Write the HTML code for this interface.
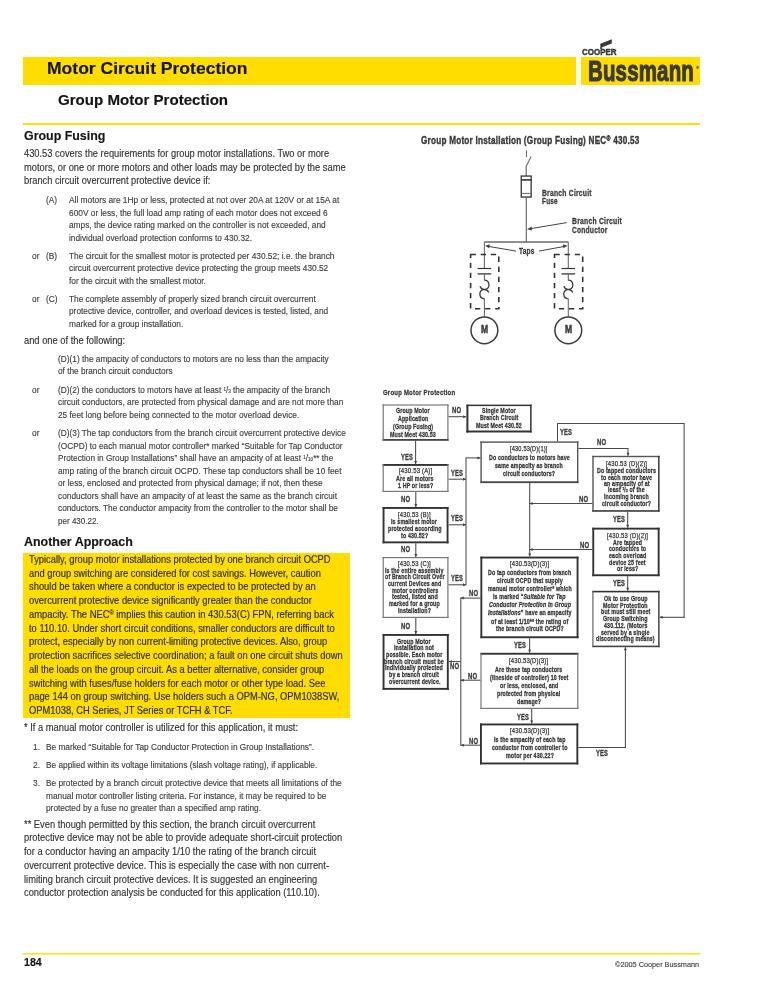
<!DOCTYPE html><html><head><meta charset="utf-8"><style>
*{margin:0;padding:0}
html,body{width:768px;height:994px;background:#fff;overflow:hidden}
body{position:relative;font-family:"Liberation Sans",sans-serif}
#pg{position:absolute;left:0;top:0;width:768px;height:994px;background:#fff;filter:blur(0.3px)}
.g{position:absolute;left:0;top:0}
.l{position:absolute;white-space:nowrap;line-height:1;transform-origin:0 0;-webkit-text-stroke:0.15px currentColor}
.fr sup,.fr sub{font-size:55%;line-height:0}
.fr sup{vertical-align:0.45em}.fr sub{vertical-align:-0.05em}
.fr2 sup,.fr2 sub{font-size:60%;line-height:0}
.fr2 sup{vertical-align:0.4em}.fr2 sub{vertical-align:0}
sup.reg{font-size:60%;vertical-align:0.5em;line-height:0}
sup.reg2{font-size:65%;vertical-align:0.45em;line-height:0}
.band{position:absolute;background:#FFDD00}
.fc{-webkit-text-stroke:0.32px currentColor;letter-spacing:0.2px}
.fb{-webkit-text-stroke:0.25px currentColor;letter-spacing:0.2px}
.dg{-webkit-text-stroke:0.3px currentColor;letter-spacing:0.3px}
.dt{-webkit-text-stroke:0.4px currentColor;letter-spacing:0.3px}
.dm{-webkit-text-stroke:0.5px currentColor}
</style></head><body style="color:#333"><div id=pg>
<div class=band style="left:23px;top:57px;width:552.5px;height:27.5px"></div>
<div class=band style="left:581px;top:57px;width:119px;height:27.5px"></div>
<div class=band style="left:22.5px;top:553.25px;width:327.5px;height:164.25px"></div>
<svg class=g width="768" height="994" viewBox="0 0 768 994"><rect x="23" y="123" width="677" height="2" fill="#FFDD00"/><rect x="22.5" y="953" width="678" height="1.6" fill="#FFE21A"/><line x1="526.5" y1="150.5" x2="526.5" y2="157" stroke="#6a6a6a" stroke-width="1.1" /><line x1="526.0" y1="166.8" x2="531.1" y2="156.5" stroke="#6a6a6a" stroke-width="1.1" /><line x1="526.2" y1="166.3" x2="526.2" y2="176" stroke="#6a6a6a" stroke-width="1.2" /><rect x="521.25" y="176.05" width="9.899999999999931" height="20.999999999999982" fill="none" stroke="#333" stroke-width="1.3"/><line x1="521" y1="179.9" x2="531.5" y2="179.9" stroke="#333" stroke-width="1.6" /><line x1="521" y1="193.4" x2="531.5" y2="193.4" stroke="#666" stroke-width="1.0" /><line x1="526.3" y1="197.4" x2="526.3" y2="242.5" stroke="#6a6a6a" stroke-width="1.2" /><line x1="484.3" y1="242" x2="568.3" y2="242" stroke="#6a6a6a" stroke-width="1.4" /><line x1="566.8" y1="222.6" x2="530.5" y2="228.7" stroke="#444" stroke-width="1.0" /><polygon points="527,229.3 531.6,226.5 531.9,230.6" fill="#444"/><line x1="516.0" y1="251.1" x2="488.5" y2="246.4" stroke="#444" stroke-width="1.0" /><polygon points="485.1,245.8 489.9,244.2 489.2,248.3" fill="#444"/><line x1="539.0" y1="251.1" x2="564.4" y2="246.4" stroke="#444" stroke-width="1.0" /><polygon points="567.6,245.8 562.8,244.2 563.5,248.3" fill="#444"/><line x1="484.4" y1="242" x2="484.4" y2="268.3" stroke="#6a6a6a" stroke-width="1.1" /><line x1="477.59999999999997" y1="268.5" x2="491.2" y2="268.5" stroke="#333" stroke-width="1.15" /><line x1="477.59999999999997" y1="273.9" x2="491.2" y2="273.9" stroke="#5c5c5c" stroke-width="1.6" /><line x1="484.4" y1="273.7" x2="484.4" y2="280.4" stroke="#6a6a6a" stroke-width="1.1" /><path d="M 484.4 280.2 A 4.6 4.6 0 1 1 480.0 286.3" fill="none" stroke="#3a3a3a" stroke-width="1.3"/><path d="M 488.79999999999995 292.6 A 4.6 4.6 0 1 0 484.4 298.8" fill="none" stroke="#3a3a3a" stroke-width="1.3"/><line x1="484.4" y1="298.6" x2="484.4" y2="316.8" stroke="#6a6a6a" stroke-width="1.1" /><circle cx="484.4" cy="330.3" r="13.4" fill="none" stroke="#3a3a3a" stroke-width="1.5"/><rect x="470.59999999999997" y="254.5" width="28.19999999999999" height="54.3" fill="none" stroke="#333" stroke-width="1.6" stroke-dasharray="5.3 4.8"/><line x1="568.3" y1="242" x2="568.3" y2="268.3" stroke="#6a6a6a" stroke-width="1.1" /><line x1="561.5" y1="268.5" x2="575.0999999999999" y2="268.5" stroke="#333" stroke-width="1.15" /><line x1="561.5" y1="273.9" x2="575.0999999999999" y2="273.9" stroke="#5c5c5c" stroke-width="1.6" /><line x1="568.3" y1="273.7" x2="568.3" y2="280.4" stroke="#6a6a6a" stroke-width="1.1" /><path d="M 568.3 280.2 A 4.6 4.6 0 1 1 563.9 286.3" fill="none" stroke="#3a3a3a" stroke-width="1.3"/><path d="M 572.6999999999999 292.6 A 4.6 4.6 0 1 0 568.3 298.8" fill="none" stroke="#3a3a3a" stroke-width="1.3"/><line x1="568.3" y1="298.6" x2="568.3" y2="316.8" stroke="#6a6a6a" stroke-width="1.1" /><circle cx="568.3" cy="330.3" r="13.4" fill="none" stroke="#3a3a3a" stroke-width="1.5"/><rect x="554.5" y="254.5" width="28.199999999999932" height="54.3" fill="none" stroke="#333" stroke-width="1.6" stroke-dasharray="5.3 4.8"/><rect x="382.6" y="404.4" width="65.89999999999998" height="1.2" fill="#777"/><rect x="447.3" y="404.4" width="1.2" height="36.400000000000034" fill="#777"/><rect x="382.6" y="439.0" width="65.89999999999998" height="1.8" fill="#444"/><rect x="382.6" y="404.4" width="1.2" height="36.400000000000034" fill="#777"/><rect x="466.4" y="404.6" width="65.20000000000005" height="1.5" fill="#333"/><rect x="530.1" y="404.6" width="1.5" height="27.899999999999977" fill="#333"/><rect x="466.4" y="430.5" width="65.20000000000005" height="2.0" fill="#333"/><rect x="466.4" y="404.6" width="2.0" height="27.899999999999977" fill="#333"/><rect x="382.6" y="464.0" width="65.89999999999998" height="1.9" fill="#333"/><rect x="447.3" y="464.0" width="1.2" height="28.0" fill="#777"/><rect x="382.6" y="490.8" width="65.89999999999998" height="1.2" fill="#777"/><rect x="382.6" y="464.0" width="1.2" height="28.0" fill="#777"/><rect x="382.6" y="507.0" width="65.89999999999998" height="1.9" fill="#333"/><rect x="446.6" y="507.0" width="1.9" height="36.299999999999955" fill="#333"/><rect x="382.6" y="541.4" width="65.89999999999998" height="1.9" fill="#333"/><rect x="382.6" y="507.0" width="1.9" height="36.299999999999955" fill="#333"/><rect x="382.6" y="557.0" width="65.89999999999998" height="1.2" fill="#777"/><rect x="447.3" y="557.0" width="1.2" height="61.0" fill="#777"/><rect x="382.6" y="616.8" width="65.89999999999998" height="1.2" fill="#777"/><rect x="382.6" y="557.0" width="1.2" height="61.0" fill="#777"/><rect x="382.6" y="634.0" width="66.14999999999998" height="1.9" fill="#333"/><rect x="446.85" y="634.0" width="1.9" height="55.799999999999955" fill="#333"/><rect x="382.6" y="687.9" width="66.14999999999998" height="1.9" fill="#333"/><rect x="382.6" y="634.0" width="1.9" height="55.799999999999955" fill="#333"/><rect x="480.4" y="441.4" width="98.0" height="1.4" fill="#555"/><rect x="577.0" y="441.4" width="1.4" height="41.700000000000045" fill="#555"/><rect x="480.4" y="481.3" width="98.0" height="1.8" fill="#444"/><rect x="480.4" y="441.4" width="1.4" height="41.700000000000045" fill="#555"/><rect x="592.3" y="455.8" width="67.30000000000007" height="1.4" fill="#555"/><rect x="658.0" y="455.8" width="1.6" height="56.0" fill="#444"/><rect x="592.3" y="510.1" width="67.30000000000007" height="1.7" fill="#444"/><rect x="592.3" y="455.8" width="1.4" height="56.0" fill="#555"/><rect x="592.3" y="527.7" width="67.30000000000007" height="1.9" fill="#333"/><rect x="657.7" y="527.7" width="1.9" height="48.5" fill="#333"/><rect x="592.3" y="574.3000000000001" width="67.30000000000007" height="1.9" fill="#333"/><rect x="592.3" y="527.7" width="1.9" height="48.5" fill="#333"/><rect x="592.3" y="590.8" width="67.30000000000007" height="1.6" fill="#333"/><rect x="658.1" y="590.8" width="1.5" height="56.40000000000009" fill="#444"/><rect x="592.3" y="645.6" width="67.30000000000007" height="1.6" fill="#444"/><rect x="592.3" y="590.8" width="1.2" height="56.40000000000009" fill="#666"/><rect x="480.4" y="556.6" width="98.10000000000002" height="1.9" fill="#333"/><rect x="576.6" y="556.6" width="1.9" height="81.60000000000002" fill="#333"/><rect x="480.4" y="636.3000000000001" width="98.10000000000002" height="1.9" fill="#333"/><rect x="480.4" y="556.6" width="1.9" height="81.60000000000002" fill="#333"/><rect x="480.4" y="652.8" width="98.0" height="1.9" fill="#333"/><rect x="577.1999999999999" y="652.8" width="1.2" height="56.200000000000045" fill="#777"/><rect x="480.4" y="707.8" width="98.0" height="1.2" fill="#777"/><rect x="480.4" y="652.8" width="1.2" height="56.200000000000045" fill="#777"/><rect x="480.0" y="723.5" width="98.29999999999995" height="1.9" fill="#333"/><rect x="576.4" y="723.5" width="1.9" height="40.89999999999998" fill="#333"/><rect x="480.0" y="762.5" width="98.29999999999995" height="1.9" fill="#333"/><rect x="480.0" y="723.5" width="1.9" height="40.89999999999998" fill="#333"/><line x1="448.5" y1="416.7" x2="466.2" y2="416.7" stroke="#4a4a4a" stroke-width="1.05" /><polygon points="466.20,416.70 463.20,415.20 463.20,418.20" fill="#444"/><line x1="415.6" y1="440.8" x2="415.6" y2="464.0" stroke="#4a4a4a" stroke-width="1.05" /><polygon points="415.60,464.00 414.10,461.00 417.10,461.00" fill="#444"/><line x1="448.5" y1="479.2" x2="466.0" y2="479.2" stroke="#4a4a4a" stroke-width="1.05" /><polygon points="466.00,479.20 463.00,477.70 463.00,480.70" fill="#444"/><line x1="415.8" y1="492.0" x2="415.8" y2="507.0" stroke="#4a4a4a" stroke-width="1.05" /><polygon points="415.80,507.00 414.30,504.00 417.30,504.00" fill="#444"/><line x1="448.5" y1="524.8" x2="466.0" y2="524.8" stroke="#4a4a4a" stroke-width="1.05" /><polygon points="466.00,524.80 463.00,523.30 463.00,526.30" fill="#444"/><line x1="415.8" y1="543.3" x2="415.8" y2="557.0" stroke="#4a4a4a" stroke-width="1.05" /><polygon points="415.80,557.00 414.30,554.00 417.30,554.00" fill="#444"/><line x1="448.5" y1="584.8" x2="466.0" y2="584.8" stroke="#4a4a4a" stroke-width="1.05" /><polygon points="466.00,584.80 463.00,583.30 463.00,586.30" fill="#444"/><line x1="415.8" y1="618.0" x2="415.8" y2="634.0" stroke="#4a4a4a" stroke-width="1.05" /><polygon points="415.80,634.00 414.30,631.00 417.30,631.00" fill="#444"/><line x1="466.0" y1="457.4" x2="466.0" y2="585.3" stroke="#4a4a4a" stroke-width="1.05" /><line x1="466.0" y1="457.9" x2="480.4" y2="457.9" stroke="#4a4a4a" stroke-width="1.05" /><polygon points="480.40,457.90 477.40,456.40 477.40,459.40" fill="#444"/><line x1="557.5" y1="441.4" x2="557.5" y2="423.0" stroke="#4a4a4a" stroke-width="1.05" /><line x1="557.0" y1="423.5" x2="684.1" y2="423.5" stroke="#4a4a4a" stroke-width="1.05" /><line x1="684.1" y1="423.0" x2="684.1" y2="617.8" stroke="#4a4a4a" stroke-width="1.05" /><line x1="684.6" y1="617.3" x2="659.6" y2="617.3" stroke="#4a4a4a" stroke-width="1.05" /><polygon points="659.60,617.30 662.60,615.80 662.60,618.80" fill="#444"/><line x1="578.4" y1="448.4" x2="628.0" y2="448.4" stroke="#4a4a4a" stroke-width="1.05" /><line x1="628.0" y1="447.9" x2="628.0" y2="455.8" stroke="#4a4a4a" stroke-width="1.05" /><polygon points="628.00,455.80 626.50,452.80 629.50,452.80" fill="#444"/><line x1="529.7" y1="482.6" x2="529.7" y2="556.6" stroke="#4a4a4a" stroke-width="1.05" /><polygon points="529.70,556.60 528.20,553.60 531.20,553.60" fill="#444"/><line x1="592.3" y1="503.5" x2="529.7" y2="503.5" stroke="#4a4a4a" stroke-width="1.05" /><polygon points="529.70,503.50 532.70,502.00 532.70,505.00" fill="#444"/><line x1="627.7" y1="511.8" x2="627.7" y2="527.7" stroke="#4a4a4a" stroke-width="1.05" /><polygon points="627.70,527.70 626.20,524.70 629.20,524.70" fill="#444"/><line x1="592.3" y1="549.5" x2="529.7" y2="549.5" stroke="#4a4a4a" stroke-width="1.05" /><polygon points="529.70,549.50 532.70,548.00 532.70,551.00" fill="#444"/><line x1="627.7" y1="576.2" x2="627.7" y2="590.8" stroke="#4a4a4a" stroke-width="1.05" /><polygon points="627.70,590.80 626.20,587.80 629.20,587.80" fill="#444"/><line x1="480.4" y1="598.1" x2="460.8" y2="598.1" stroke="#4a4a4a" stroke-width="1.05" /><polygon points="460.80,598.10 463.80,596.60 463.80,599.60" fill="#444"/><line x1="460.8" y1="597.6" x2="460.8" y2="745.7" stroke="#4a4a4a" stroke-width="1.05" /><line x1="460.8" y1="661.6" x2="448.75" y2="661.6" stroke="#4a4a4a" stroke-width="1.05" /><polygon points="448.75,661.60 451.75,660.10 451.75,663.10" fill="#444"/><line x1="529.6" y1="638.2" x2="529.6" y2="652.8" stroke="#4a4a4a" stroke-width="1.05" /><polygon points="529.60,652.80 528.10,649.80 531.10,649.80" fill="#444"/><line x1="480.4" y1="680.2" x2="460.8" y2="680.2" stroke="#4a4a4a" stroke-width="1.05" /><polygon points="460.80,680.20 463.80,678.70 463.80,681.70" fill="#444"/><line x1="531.7" y1="709.0" x2="531.7" y2="723.5" stroke="#4a4a4a" stroke-width="1.05" /><polygon points="531.70,723.50 530.20,720.50 533.20,720.50" fill="#444"/><line x1="480.0" y1="745.2" x2="460.8" y2="745.2" stroke="#4a4a4a" stroke-width="1.05" /><polygon points="460.80,745.20 463.80,743.70 463.80,746.70" fill="#444"/><line x1="578.3" y1="747.4" x2="625.9" y2="747.4" stroke="#4a4a4a" stroke-width="1.05" /><line x1="625.4" y1="747.9" x2="625.4" y2="647.2" stroke="#4a4a4a" stroke-width="1.05" /><polygon points="625.40,647.20 623.90,650.20 626.90,650.20" fill="#444"/></svg>
<svg class=g width="768" height="994" viewBox="0 0 768 994">
<polygon points="600.3,43.8 611.8,39.2 611.8,43.5 602.1,47.3 602.1,49 600.3,49" fill="#3a3a3a"/>
</svg>
<div class=l style="left:582.2px;top:48.29px;font-size:8.6px;font-weight:bold;color:#3a3a3a;-webkit-text-stroke:0.45px #3a3a3a;transform:scaleX(0.9283)">COOPER</div>
<div class=l style="left:588.3px;top:57.19px;font-size:28.6px;font-weight:bold;color:#3a3a3a;-webkit-text-stroke:1.1px #3a3a3a;letter-spacing:0.2px;transform:scaleX(0.7171)">Bussmann</div>
<div class=l style="left:696.2px;top:67.2px;font-size:3.5px;color:#3a3a3a">®</div>
<div class="l" id=l0 style="left:47.20px;top:61.41px;font-size:16.7px;font-weight:bold;color:#151515;transform:scaleX(1.0498);">Motor Circuit Protection</div><div class="l" id=l1 style="left:57.60px;top:93.12px;font-size:14.8px;font-weight:bold;color:#151515;transform:scaleX(1.0193);">Group Motor Protection</div><div class="l" id=l2 style="left:24.20px;top:129.97px;font-size:12.5px;font-weight:bold;color:#151515;transform:scaleX(0.9922);">Group Fusing</div><div class="l" id=l3 style="left:24.10px;top:148.42px;font-size:10.5px;transform:scaleX(0.8867);">430.53 covers the requirements for group motor installations. Two or more</div><div class="l" id=l4 style="left:24.10px;top:161.97px;font-size:10.5px;transform:scaleX(0.8903);">motors, or one or more motors and other loads may be protected by the same</div><div class="l" id=l5 style="left:24.10px;top:175.47px;font-size:10.5px;transform:scaleX(0.8823);">branch circuit overcurrent protective device if:</div><div class="l" id=l6 style="left:46.20px;top:195.21px;font-size:9.4px;color:#404040;transform:scaleX(0.8900);">(A)</div><div class="l" id=l7 style="left:68.80px;top:195.21px;font-size:9.4px;color:#404040;transform:scaleX(0.8909);">All motors are 1Hp or less, protected at not over 20A at 120V or at 15A at</div><div class="l" id=l8 style="left:68.80px;top:207.61px;font-size:9.4px;color:#404040;transform:scaleX(0.8880);">600V or less, the full load amp rating of each motor does not exceed 6</div><div class="l" id=l9 style="left:68.80px;top:220.11px;font-size:9.4px;color:#404040;transform:scaleX(0.8859);">amps, the device rating marked on the controller is not exceeded, and</div><div class="l" id=l10 style="left:68.80px;top:232.61px;font-size:9.4px;color:#404040;transform:scaleX(0.8842);">individual overload protection conforms to 430.32.</div><div class="l" id=l11 style="left:32.40px;top:250.81px;font-size:9.4px;color:#404040;transform:scaleX(0.8900);">or</div><div class="l" id=l12 style="left:46.20px;top:250.81px;font-size:9.4px;color:#404040;transform:scaleX(0.8900);">(B)</div><div class="l" id=l13 style="left:68.80px;top:250.81px;font-size:9.4px;color:#404040;transform:scaleX(0.8875);">The circuit for the smallest motor is protected per 430.52; i.e. the branch</div><div class="l" id=l14 style="left:68.80px;top:263.21px;font-size:9.4px;color:#404040;transform:scaleX(0.8850);">circuit overcurrent protective device protecting the group meets 430.52</div><div class="l" id=l15 style="left:68.80px;top:275.71px;font-size:9.4px;color:#404040;transform:scaleX(0.8879);">for the circuit with the smallest motor.</div><div class="l" id=l16 style="left:32.40px;top:293.81px;font-size:9.4px;color:#404040;transform:scaleX(0.8900);">or</div><div class="l" id=l17 style="left:46.20px;top:293.81px;font-size:9.4px;color:#404040;transform:scaleX(0.8900);">(C)</div><div class="l" id=l18 style="left:68.80px;top:293.81px;font-size:9.4px;color:#404040;transform:scaleX(0.8850);">The complete assembly of properly sized branch circuit overcurrent</div><div class="l" id=l19 style="left:68.80px;top:306.31px;font-size:9.4px;color:#404040;transform:scaleX(0.8850);">protective device, controller, and overload devices is tested, listed, and</div><div class="l" id=l20 style="left:68.80px;top:318.71px;font-size:9.4px;color:#404040;transform:scaleX(0.8872);">marked for a group installation.</div><div class="l" id=l21 style="left:23.90px;top:334.68px;font-size:10.5px;transform:scaleX(0.8881);">and one of the following:</div><div class="l" id=l22 style="left:58.00px;top:353.86px;font-size:9.4px;color:#404040;transform:scaleX(0.8852);">(D)(1) the ampacity of conductors to motors are no less than the ampacity</div><div class="l" id=l23 style="left:58.00px;top:366.36px;font-size:9.4px;color:#404040;transform:scaleX(0.8789);">of the branch circuit conductors</div><div class="l" id=l24 style="left:32.40px;top:385.11px;font-size:9.4px;color:#404040;transform:scaleX(0.8900);">or</div><div class="l" id=l25 style="left:58.00px;top:385.11px;font-size:9.4px;color:#404040;transform:scaleX(0.8772);">(D)(2) the conductors to motors have at least <span class=fr><sup>1</sup>/<sub>3</sub></span> the ampacity of the branch</div><div class="l" id=l26 style="left:58.00px;top:397.21px;font-size:9.4px;color:#404040;transform:scaleX(0.8843);">circuit conductors, are protected from physical damage and are not more than</div><div class="l" id=l27 style="left:58.00px;top:409.61px;font-size:9.4px;color:#404040;transform:scaleX(0.8833);">25 feet long before being connected to the motor overload device.</div><div class="l" id=l28 style="left:32.40px;top:428.11px;font-size:9.4px;color:#404040;transform:scaleX(0.8900);">or</div><div class="l" id=l29 style="left:58.00px;top:428.11px;font-size:9.4px;color:#404040;transform:scaleX(0.8841);">(D)(3) The tap conductors from the branch circuit overcurrent protective device</div><div class="l" id=l30 style="left:58.00px;top:440.61px;font-size:9.4px;color:#404040;transform:scaleX(0.8840);">(OCPD) to each manual motor controller* marked “Suitable for Tap Conductor</div><div class="l" id=l31 style="left:58.00px;top:453.11px;font-size:9.4px;color:#404040;transform:scaleX(0.8765);">Protection in Group Installations” shall have an ampacity of at least <span class=fr><sup>1</sup>/<sub>10</sub></span>** the</div><div class="l" id=l32 style="left:58.00px;top:465.61px;font-size:9.4px;color:#404040;transform:scaleX(0.8865);">amp rating of the branch circuit OCPD. These tap conductors shall be 10 feet</div><div class="l" id=l33 style="left:58.00px;top:478.11px;font-size:9.4px;color:#404040;transform:scaleX(0.8842);">or less, enclosed and protected from physical damage; if not, then these</div><div class="l" id=l34 style="left:58.00px;top:490.61px;font-size:9.4px;color:#404040;transform:scaleX(0.8864);">conductors shall have an ampacity of at least the same as the branch circuit</div><div class="l" id=l35 style="left:58.00px;top:503.11px;font-size:9.4px;color:#404040;transform:scaleX(0.8842);">conductors. The conductor ampacity from the controller to the motor shall be</div><div class="l" id=l36 style="left:58.00px;top:515.61px;font-size:9.4px;color:#404040;transform:scaleX(0.8590);">per 430.22.</div><div class="l" id=l37 style="left:24.25px;top:536.38px;font-size:12.5px;font-weight:bold;color:#151515;transform:scaleX(0.9953);">Another Approach</div><div class="l" id=l38 style="left:28.90px;top:553.78px;font-size:10.5px;color:#2a2a2a;transform:scaleX(0.8884);">Typically, group motor installations protected by one branch circuit OCPD</div><div class="l" id=l39 style="left:28.90px;top:567.53px;font-size:10.5px;color:#2a2a2a;transform:scaleX(0.8897);">and group switching are considered for cost savings. However, caution</div><div class="l" id=l40 style="left:28.90px;top:581.28px;font-size:10.5px;color:#2a2a2a;transform:scaleX(0.8927);">should be taken where a conductor is expected to be protected by an</div><div class="l" id=l41 style="left:28.90px;top:595.03px;font-size:10.5px;color:#2a2a2a;transform:scaleX(0.8892);">overcurrent protective device significantly greater than the conductor</div><div class="l" id=l42 style="left:28.90px;top:608.78px;font-size:10.5px;color:#2a2a2a;transform:scaleX(0.8940);">ampacity. The NEC<sup class=reg>®</sup> implies this caution in 430.53(C) FPN, referring back</div><div class="l" id=l43 style="left:28.90px;top:622.53px;font-size:10.5px;color:#2a2a2a;transform:scaleX(0.8900);">to 110.10. Under short circuit conditions, smaller conductors are difficult to</div><div class="l" id=l44 style="left:28.90px;top:636.28px;font-size:10.5px;color:#2a2a2a;transform:scaleX(0.8883);">protect, especially by non current-limiting protective devices. Also, group</div><div class="l" id=l45 style="left:28.90px;top:650.03px;font-size:10.5px;color:#2a2a2a;transform:scaleX(0.8896);">protection sacrifices selective coordination; a fault on one circuit shuts down</div><div class="l" id=l46 style="left:28.90px;top:663.78px;font-size:10.5px;color:#2a2a2a;transform:scaleX(0.8924);">all the loads on the group circuit. As a better alternative, consider group</div><div class="l" id=l47 style="left:28.90px;top:677.53px;font-size:10.5px;color:#2a2a2a;transform:scaleX(0.8908);">switching with fuses/fuse holders for each motor or other type load. See</div><div class="l" id=l48 style="left:28.90px;top:691.28px;font-size:10.5px;color:#2a2a2a;transform:scaleX(0.8907);">page 144 on group switching. Use holders such a OPM-NG, OPM1038SW,</div><div class="l" id=l49 style="left:28.90px;top:705.03px;font-size:10.5px;color:#2a2a2a;transform:scaleX(0.8901);">OPM1038, CH Series, JT Series or TCFH &amp; TCF.</div><div class="l" id=l50 style="left:24.25px;top:722.43px;font-size:10.5px;transform:scaleX(0.8892);">* If a manual motor controller is utilized for this application, it must:</div><div class="l" id=l51 style="left:33.00px;top:741.61px;font-size:9.4px;color:#404040;transform:scaleX(0.8900);">1.</div><div class="l" id=l52 style="left:46.25px;top:741.61px;font-size:9.4px;color:#404040;transform:scaleX(0.8842);">Be marked “Suitable for Tap Conductor Protection in Group Installations”.</div><div class="l" id=l53 style="left:33.00px;top:759.91px;font-size:9.4px;color:#404040;transform:scaleX(0.8900);">2.</div><div class="l" id=l54 style="left:46.25px;top:759.91px;font-size:9.4px;color:#404040;transform:scaleX(0.8837);">Be applied within its voltage limitations (slash voltage rating), if applicable.</div><div class="l" id=l55 style="left:33.00px;top:778.21px;font-size:9.4px;color:#404040;transform:scaleX(0.8900);">3.</div><div class="l" id=l56 style="left:46.25px;top:778.21px;font-size:9.4px;color:#404040;transform:scaleX(0.8868);">Be protected by a branch circuit protective device that meets all limitations of the</div><div class="l" id=l57 style="left:46.25px;top:790.51px;font-size:9.4px;color:#404040;transform:scaleX(0.8868);">manual motor controller listing criteria. For instance, it may be required to be</div><div class="l" id=l58 style="left:46.25px;top:802.91px;font-size:9.4px;color:#404040;transform:scaleX(0.8853);">protected by a fuse no greater than a specified amp rating.</div><div class="l" id=l59 style="left:24.25px;top:818.68px;font-size:10.5px;transform:scaleX(0.8879);">** Even though permitted by this section, the branch circuit overcurrent</div><div class="l" id=l60 style="left:24.25px;top:832.43px;font-size:10.5px;transform:scaleX(0.8880);">protective device may not be able to provide adequate short-circuit protection</div><div class="l" id=l61 style="left:24.25px;top:846.18px;font-size:10.5px;transform:scaleX(0.8902);">for a conductor having an ampacity 1/10 the rating of the branch circuit</div><div class="l" id=l62 style="left:24.25px;top:859.93px;font-size:10.5px;transform:scaleX(0.8878);">overcurrent protective device. This is especially the case with non current-</div><div class="l" id=l63 style="left:24.25px;top:873.68px;font-size:10.5px;transform:scaleX(0.8861);">limiting branch circuit protective devices. It is suggested an engineering</div><div class="l" id=l64 style="left:24.25px;top:887.43px;font-size:10.5px;transform:scaleX(0.8863);">conductor protection analysis be conducted for this application (110.10).</div><div class="l" id=l65 style="left:24.25px;top:957.34px;font-size:10.6px;font-weight:bold;color:#151515;transform:scaleX(1.0035);">184</div><div class="l" id=l66 style="left:614.90px;top:961.02px;font-size:7.5px;color:#444;transform:scaleX(0.9731);">©2005 Cooper Bussmann</div><div class="l dt" id=l67 style="left:421.40px;top:135.34px;font-size:10.9px;font-weight:bold;color:#3a3a3a;transform:scaleX(0.7509);">Group Motor Installation (Group Fusing) NEC<sup class=reg2>®</sup> 430.53</div><div class="l dg" id=l68 style="left:541.80px;top:188.50px;font-size:8.7px;font-weight:bold;color:#3a3a3a;transform:scaleX(0.7774);">Branch Circuit</div><div class="l dg" id=l69 style="left:541.80px;top:196.80px;font-size:8.7px;font-weight:bold;color:#3a3a3a;transform:scaleX(0.7401);">Fuse</div><div class="l dg" id=l70 style="left:571.70px;top:217.40px;font-size:8.7px;font-weight:bold;color:#3a3a3a;transform:scaleX(0.7805);">Branch Circuit</div><div class="l dg" id=l71 style="left:571.70px;top:226.00px;font-size:8.7px;font-weight:bold;color:#3a3a3a;transform:scaleX(0.7635);">Conductor</div><div class="l dg" id=l72 style="left:518.80px;top:247.20px;font-size:8.7px;font-weight:bold;color:#3a3a3a;transform:scaleX(0.7484);">Taps</div><div class="l dm" id=l73 style="left:480.85px;top:325.40px;font-size:10px;font-weight:bold;color:#3a3a3a;transform:scaleX(0.8500);">M</div><div class="l dm" id=l74 style="left:564.75px;top:325.40px;font-size:10px;font-weight:bold;color:#3a3a3a;transform:scaleX(0.8500);">M</div><div class="l dg" id=l75 style="left:383.00px;top:388.69px;font-size:7.9px;font-weight:bold;color:#3a3a3a;transform:scaleX(0.7563);">Group Motor Protection</div><div class="l fc" id=l76 style="left:395.98px;top:407.81px;font-size:7.1px;font-weight:bold;color:#3a3a3a;transform:scaleX(0.7450);">Group Motor</div><div class="l fc" id=l77 style="left:397.59px;top:415.77px;font-size:7.1px;font-weight:bold;color:#3a3a3a;transform:scaleX(0.7450);">Application</div><div class="l fc" id=l78 style="left:392.67px;top:424.17px;font-size:7.1px;font-weight:bold;color:#3a3a3a;transform:scaleX(0.7450);">(Group Fusing)</div><div class="l fc" id=l79 style="left:389.87px;top:432.06px;font-size:7.1px;font-weight:bold;color:#3a3a3a;transform:scaleX(0.7450);">Must Meet 430.53</div><div class="l fc" id=l80 style="left:481.90px;top:407.67px;font-size:7.1px;font-weight:bold;color:#3a3a3a;transform:scaleX(0.7450);">Single Motor</div><div class="l fc" id=l81 style="left:479.55px;top:415.17px;font-size:7.1px;font-weight:bold;color:#3a3a3a;transform:scaleX(0.7450);">Branch Circuit</div><div class="l fc" id=l82 style="left:475.87px;top:423.47px;font-size:7.1px;font-weight:bold;color:#3a3a3a;transform:scaleX(0.7450);">Must Meet 430.52</div><div class="l fb" id=l83 style="left:398.55px;top:468.37px;font-size:7.1px;transform:scaleX(0.8437);">[430.53 (A)]</div><div class="l fc" id=l84 style="left:396.39px;top:476.42px;font-size:7.1px;font-weight:bold;color:#3a3a3a;transform:scaleX(0.7450);">Are all motors</div><div class="l fc" id=l85 style="left:397.54px;top:483.27px;font-size:7.1px;font-weight:bold;color:#3a3a3a;transform:scaleX(0.7450);">1 HP or less?</div><div class="l fb" id=l86 style="left:398.05px;top:511.97px;font-size:7.1px;transform:scaleX(0.8285);">[430.53 (B)]</div><div class="l fc" id=l87 style="left:391.40px;top:519.37px;font-size:7.1px;font-weight:bold;color:#3a3a3a;transform:scaleX(0.7450);">Is smallest motor</div><div class="l fc" id=l88 style="left:387.58px;top:526.17px;font-size:7.1px;font-weight:bold;color:#3a3a3a;transform:scaleX(0.7450);">protected according</div><div class="l fc" id=l89 style="left:400.73px;top:532.87px;font-size:7.1px;font-weight:bold;color:#3a3a3a;transform:scaleX(0.7450);">to 430.52?</div><div class="l fb" id=l90 style="left:398.30px;top:560.66px;font-size:7.1px;transform:scaleX(0.8229);">[430.53 (C)]</div><div class="l fc" id=l91 style="left:385.45px;top:567.87px;font-size:7.1px;font-weight:bold;color:#3a3a3a;transform:scaleX(0.7450);">Is the entire assembly</div><div class="l fc" id=l92 style="left:384.87px;top:574.17px;font-size:7.1px;font-weight:bold;color:#3a3a3a;transform:scaleX(0.7450);">of Branch Circuit Over</div><div class="l fc" id=l93 style="left:388.02px;top:580.97px;font-size:7.1px;font-weight:bold;color:#3a3a3a;transform:scaleX(0.7450);">current Devices and</div><div class="l fc" id=l94 style="left:391.55px;top:587.67px;font-size:7.1px;font-weight:bold;color:#3a3a3a;transform:scaleX(0.7450);">motor controllers</div><div class="l fc" id=l95 style="left:391.77px;top:594.37px;font-size:7.1px;font-weight:bold;color:#3a3a3a;transform:scaleX(0.7450);">tested, listed and</div><div class="l fc" id=l96 style="left:389.28px;top:601.17px;font-size:7.1px;font-weight:bold;color:#3a3a3a;transform:scaleX(0.7450);">marked for a group</div><div class="l fc" id=l97 style="left:398.16px;top:607.87px;font-size:7.1px;font-weight:bold;color:#3a3a3a;transform:scaleX(0.7450);">installation?</div><div class="l fc" id=l98 style="left:397.48px;top:638.67px;font-size:7.1px;font-weight:bold;color:#3a3a3a;transform:scaleX(0.7450);">Group Motor</div><div class="l fc" id=l99 style="left:394.31px;top:645.47px;font-size:7.1px;font-weight:bold;color:#3a3a3a;transform:scaleX(0.7450);">installation not</div><div class="l fc" id=l100 style="left:386.08px;top:652.17px;font-size:7.1px;font-weight:bold;color:#3a3a3a;transform:scaleX(0.7450);">possible. Each motor</div><div class="l fc" id=l101 style="left:384.32px;top:658.67px;font-size:7.1px;font-weight:bold;color:#3a3a3a;transform:scaleX(0.7450);">branch circuit must be</div><div class="l fc" id=l102 style="left:385.35px;top:665.37px;font-size:7.1px;font-weight:bold;color:#3a3a3a;transform:scaleX(0.7450);">individually protected</div><div class="l fc" id=l103 style="left:389.39px;top:672.47px;font-size:7.1px;font-weight:bold;color:#3a3a3a;transform:scaleX(0.7450);">by a branch circuit</div><div class="l fc" id=l104 style="left:388.50px;top:679.37px;font-size:7.1px;font-weight:bold;color:#3a3a3a;transform:scaleX(0.7450);">overcurrent device.</div><div class="l fb" id=l105 style="left:510.45px;top:446.12px;font-size:7.1px;transform:scaleX(0.7984);">[430.53(D)(1)]</div><div class="l fc" id=l106 style="left:488.79px;top:455.17px;font-size:7.1px;font-weight:bold;color:#3a3a3a;transform:scaleX(0.7450);">Do conductors to motors have</div><div class="l fc" id=l107 style="left:495.32px;top:462.67px;font-size:7.1px;font-weight:bold;color:#3a3a3a;transform:scaleX(0.7450);">same ampacity as branch</div><div class="l fc" id=l108 style="left:503.11px;top:470.97px;font-size:7.1px;font-weight:bold;color:#3a3a3a;transform:scaleX(0.7450);">circuit conductors?</div><div class="l fb" id=l109 style="left:605.85px;top:461.12px;font-size:7.1px;transform:scaleX(0.8364);">[430.53 (D)(2)]</div><div class="l fc" id=l110 style="left:596.87px;top:468.06px;font-size:7.1px;font-weight:bold;color:#3a3a3a;transform:scaleX(0.7450);">Do tapped conductors</div><div class="l fc" id=l111 style="left:600.83px;top:474.56px;font-size:7.1px;font-weight:bold;color:#3a3a3a;transform:scaleX(0.7450);">to each motor have</div><div class="l fc" id=l112 style="left:603.54px;top:481.17px;font-size:7.1px;font-weight:bold;color:#3a3a3a;transform:scaleX(0.7450);">an ampacity of at</div><div class="l fc" id=l113 style="left:608.01px;top:487.47px;font-size:7.1px;font-weight:bold;color:#3a3a3a;transform:scaleX(0.7450);">least <span class=fr2><sup>1</sup>/<sub>3</sub></span> of the</div><div class="l fc" id=l114 style="left:603.99px;top:494.17px;font-size:7.1px;font-weight:bold;color:#3a3a3a;transform:scaleX(0.7450);">incoming branch</div><div class="l fc" id=l115 style="left:601.86px;top:500.97px;font-size:7.1px;font-weight:bold;color:#3a3a3a;transform:scaleX(0.7450);">circuit conductor?</div><div class="l fb" id=l116 style="left:607.25px;top:532.97px;font-size:7.1px;transform:scaleX(0.8364);">[430.53 (D)(2)]</div><div class="l fc" id=l117 style="left:613.25px;top:539.57px;font-size:7.1px;font-weight:bold;color:#3a3a3a;transform:scaleX(0.7450);">Are tapped</div><div class="l fc" id=l118 style="left:609.22px;top:546.17px;font-size:7.1px;font-weight:bold;color:#3a3a3a;transform:scaleX(0.7450);">conductors to</div><div class="l fc" id=l119 style="left:609.06px;top:552.67px;font-size:7.1px;font-weight:bold;color:#3a3a3a;transform:scaleX(0.7450);">each overload</div><div class="l fc" id=l120 style="left:609.42px;top:559.57px;font-size:7.1px;font-weight:bold;color:#3a3a3a;transform:scaleX(0.7450);">device 25 feet</div><div class="l fc" id=l121 style="left:617.07px;top:565.97px;font-size:7.1px;font-weight:bold;color:#3a3a3a;transform:scaleX(0.7450);">or less?</div><div class="l fc" id=l122 style="left:603.88px;top:596.17px;font-size:7.1px;font-weight:bold;color:#3a3a3a;transform:scaleX(0.7450);">Ok to use Group</div><div class="l fc" id=l123 style="left:603.37px;top:602.67px;font-size:7.1px;font-weight:bold;color:#3a3a3a;transform:scaleX(0.7450);">Motor Protection</div><div class="l fc" id=l124 style="left:600.93px;top:609.37px;font-size:7.1px;font-weight:bold;color:#3a3a3a;transform:scaleX(0.7450);">but must still meet</div><div class="l fc" id=l125 style="left:603.44px;top:615.57px;font-size:7.1px;font-weight:bold;color:#3a3a3a;transform:scaleX(0.7450);">Group Switching</div><div class="l fc" id=l126 style="left:603.94px;top:622.87px;font-size:7.1px;font-weight:bold;color:#3a3a3a;transform:scaleX(0.7450);">430.112. (Motors</div><div class="l fc" id=l127 style="left:601.45px;top:629.57px;font-size:7.1px;font-weight:bold;color:#3a3a3a;transform:scaleX(0.7450);">served by a single</div><div class="l fc" id=l128 style="left:596.31px;top:635.97px;font-size:7.1px;font-weight:bold;color:#3a3a3a;transform:scaleX(0.7450);">disconnecting means)</div><div class="l fb" id=l129 style="left:509.95px;top:561.12px;font-size:7.1px;transform:scaleX(0.8367);">[430.53(D)(3)]</div><div class="l fc" id=l130 style="left:487.94px;top:569.97px;font-size:7.1px;font-weight:bold;color:#3a3a3a;transform:scaleX(0.7450);">Do tap conductors from branch</div><div class="l fc" id=l131 style="left:496.69px;top:578.07px;font-size:7.1px;font-weight:bold;color:#3a3a3a;transform:scaleX(0.7450);">circuit OCPD that supply</div><div class="l fc" id=l132 style="left:487.72px;top:586.07px;font-size:7.1px;font-weight:bold;color:#3a3a3a;transform:scaleX(0.7450);">manual motor controller* which</div><div class="l fc" id=l133 style="left:493.32px;top:594.17px;font-size:7.1px;font-weight:bold;color:#3a3a3a;transform:scaleX(0.7450);">is marked “<i>Suitable for Tap</i></div><div class="l fc" id=l134 style="left:488.54px;top:602.47px;font-size:7.1px;font-weight:bold;color:#3a3a3a;transform:scaleX(0.7450);"><i>Conductor Protection in Group</i></div><div class="l fc" id=l135 style="left:487.78px;top:610.47px;font-size:7.1px;font-weight:bold;color:#3a3a3a;transform:scaleX(0.7450);"><i>Installations</i>” have an ampacity</div><div class="l fc" id=l136 style="left:490.94px;top:618.67px;font-size:7.1px;font-weight:bold;color:#3a3a3a;transform:scaleX(0.7450);">of at least 1/10** the rating of</div><div class="l fc" id=l137 style="left:495.66px;top:626.37px;font-size:7.1px;font-weight:bold;color:#3a3a3a;transform:scaleX(0.7450);">the branch circuit OCPD?</div><div class="l fb" id=l138 style="left:509.35px;top:658.07px;font-size:7.1px;transform:scaleX(0.8367);">[430.53(D)(3)]</div><div class="l fc" id=l139 style="left:495.35px;top:666.87px;font-size:7.1px;font-weight:bold;color:#3a3a3a;transform:scaleX(0.7450);">Are these tap conductors</div><div class="l fc" id=l140 style="left:489.76px;top:674.87px;font-size:7.1px;font-weight:bold;color:#3a3a3a;transform:scaleX(0.7450);">(lineside of controller) 10 feet</div><div class="l fc" id=l141 style="left:499.75px;top:682.92px;font-size:7.1px;font-weight:bold;color:#3a3a3a;transform:scaleX(0.7450);">or less, enclosed, and</div><div class="l fc" id=l142 style="left:497.33px;top:690.77px;font-size:7.1px;font-weight:bold;color:#3a3a3a;transform:scaleX(0.7450);">protected from physical</div><div class="l fc" id=l143 style="left:516.88px;top:699.07px;font-size:7.1px;font-weight:bold;color:#3a3a3a;transform:scaleX(0.7450);">damage?</div><div class="l fb" id=l144 style="left:510.35px;top:728.16px;font-size:7.1px;transform:scaleX(0.8367);">[430.53(D)(3)]</div><div class="l fc" id=l145 style="left:494.21px;top:736.77px;font-size:7.1px;font-weight:bold;color:#3a3a3a;transform:scaleX(0.7450);">Is the ampacity of each tap</div><div class="l fc" id=l146 style="left:492.24px;top:744.87px;font-size:7.1px;font-weight:bold;color:#3a3a3a;transform:scaleX(0.7450);">conductor from controller to</div><div class="l fc" id=l147 style="left:505.97px;top:752.87px;font-size:7.1px;font-weight:bold;color:#3a3a3a;transform:scaleX(0.7450);">motor per 430.22?</div><div class="l fc fl" id=l148 style="left:451.80px;top:406.16px;font-size:8.4px;font-weight:bold;color:#3a3a3a;transform:scaleX(0.7094);">NO</div><div class="l fc fl" id=l149 style="left:401.20px;top:453.46px;font-size:8.4px;font-weight:bold;color:#3a3a3a;transform:scaleX(0.6913);">YES</div><div class="l fc fl" id=l150 style="left:450.75px;top:469.06px;font-size:8.4px;font-weight:bold;color:#3a3a3a;transform:scaleX(0.6913);">YES</div><div class="l fc fl" id=l151 style="left:400.80px;top:495.26px;font-size:8.4px;font-weight:bold;color:#3a3a3a;transform:scaleX(0.7094);">NO</div><div class="l fc fl" id=l152 style="left:450.80px;top:514.46px;font-size:8.4px;font-weight:bold;color:#3a3a3a;transform:scaleX(0.6913);">YES</div><div class="l fc fl" id=l153 style="left:400.80px;top:545.36px;font-size:8.4px;font-weight:bold;color:#3a3a3a;transform:scaleX(0.7094);">NO</div><div class="l fc fl" id=l154 style="left:450.80px;top:573.86px;font-size:8.4px;font-weight:bold;color:#3a3a3a;transform:scaleX(0.6913);">YES</div><div class="l fc fl" id=l155 style="left:400.80px;top:622.46px;font-size:8.4px;font-weight:bold;color:#3a3a3a;transform:scaleX(0.7094);">NO</div><div class="l fc fl" id=l156 style="left:560.00px;top:428.46px;font-size:8.4px;font-weight:bold;color:#3a3a3a;transform:scaleX(0.6913);">YES</div><div class="l fc fl" id=l157 style="left:596.70px;top:438.46px;font-size:8.4px;font-weight:bold;color:#3a3a3a;transform:scaleX(0.7094);">NO</div><div class="l fc fl" id=l158 style="left:579.40px;top:494.71px;font-size:8.4px;font-weight:bold;color:#3a3a3a;transform:scaleX(0.7094);">NO</div><div class="l fc fl" id=l159 style="left:613.10px;top:514.96px;font-size:8.4px;font-weight:bold;color:#3a3a3a;transform:scaleX(0.6913);">YES</div><div class="l fc fl" id=l160 style="left:579.80px;top:540.96px;font-size:8.4px;font-weight:bold;color:#3a3a3a;transform:scaleX(0.7094);">NO</div><div class="l fc fl" id=l161 style="left:613.10px;top:579.46px;font-size:8.4px;font-weight:bold;color:#3a3a3a;transform:scaleX(0.6913);">YES</div><div class="l fc fl" id=l162 style="left:468.50px;top:589.06px;font-size:8.4px;font-weight:bold;color:#3a3a3a;transform:scaleX(0.7094);">NO</div><div class="l fc fl" id=l163 style="left:514.40px;top:641.16px;font-size:8.4px;font-weight:bold;color:#3a3a3a;transform:scaleX(0.6913);">YES</div><div class="l fc fl" id=l164 style="left:449.80px;top:662.21px;font-size:8.4px;font-weight:bold;color:#3a3a3a;transform:scaleX(0.7094);">NO</div><div class="l fc fl" id=l165 style="left:467.90px;top:671.96px;font-size:8.4px;font-weight:bold;color:#3a3a3a;transform:scaleX(0.7094);">NO</div><div class="l fc fl" id=l166 style="left:516.50px;top:712.66px;font-size:8.4px;font-weight:bold;color:#3a3a3a;transform:scaleX(0.6913);">YES</div><div class="l fc fl" id=l167 style="left:468.50px;top:736.56px;font-size:8.4px;font-weight:bold;color:#3a3a3a;transform:scaleX(0.7094);">NO</div><div class="l fc fl" id=l168 style="left:596.25px;top:748.66px;font-size:8.4px;font-weight:bold;color:#3a3a3a;transform:scaleX(0.6913);">YES</div></div></body></html>
